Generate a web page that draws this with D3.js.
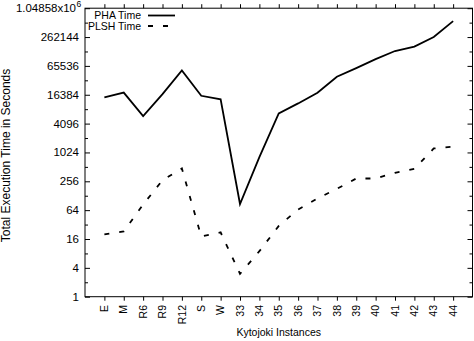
<!DOCTYPE html>
<html>
<head>
<meta charset="utf-8">
<script src="https://cdn.jsdelivr.net/npm/d3@7"></script>
<style>
  html, body { margin: 0; padding: 0; background: #fff; }
  svg text { font-family: "Liberation Sans", Arial, Helvetica, sans-serif; fill: #000; }
</style>
</head>
<body>
<svg id="chart" width="474" height="341"></svg>
<script>
// Kytojoki instances on the x axis
const categories = ["E", "M", "R6", "R9", "R12", "S", "W", "33", "34", "35", "36",
                    "37", "38", "39", "40", "41", "42", "43", "44"];

// Execution times in seconds
const phaTime = [14500, 18200, 5900, 16900, 52900, 15600, 13200, 86, 820, 6700, 10800,
                 18000, 39000, 59000, 91000, 134000, 166000, 262000, 563000];
const plshTime = [20, 23, 84, 270, 474, 18, 22, 3, 8.9, 30, 66,
                  112, 178, 293, 293, 385, 468, 1240, 1350];

// Major y ticks (powers of 4) and their labels ("|" marks a superscript)
const yTickValues = [1, 4, 16, 64, 256, 1024, 4096, 16384, 65536, 262144, 1048576];
const yTickLabels = ["1", "4", "16", "64", "256", "1024", "4096", "16384", "65536", "262144", "1.04858x10|6"];
// Minor y ticks (odd powers of 2)
const yMinorValues = [2, 8, 32, 128, 512, 2048, 8192, 32768, 131072, 524288];

const seriesNames = ["PHA Time", "PLSH Time"];

const svg = d3.select("#chart");
const plotLeft = 85, plotRight = 472.5, plotTop = 8.2, plotBottom = 296.7;

const x = d3.scaleLinear().domain([-1, categories.length]).range([plotLeft, plotRight]);
const y = d3.scaleLog().base(2).domain([1, 1048576]).range([plotBottom, plotTop]);

// Frame
svg.append("rect")
  .attr("x", plotLeft).attr("y", plotTop)
  .attr("width", plotRight - plotLeft).attr("height", plotBottom - plotTop)
  .attr("fill", "none").attr("stroke", "#000").attr("stroke-width", 1);

// Y axis (ticks inward) and mirrored right ticks
function yTicks(axisFn, xPos, values, size) {
  const g = svg.append("g").attr("transform", `translate(${xPos},0)`)
    .call(axisFn(y).tickValues(values).tickSize(size).tickFormat(""));
  g.select(".domain").remove();
  return g;
}
yTicks(d3.axisLeft, plotLeft, yTickValues, -5);
yTicks(d3.axisLeft, plotLeft, yMinorValues, -3);
yTicks(d3.axisRight, plotRight, yTickValues, -5);
yTicks(d3.axisRight, plotRight, yMinorValues, -3);

// Y tick labels
yTickValues.forEach((v, i) => {
  const parts = yTickLabels[i].split("|");
  const xEnd = parts[1] ? 76 : 79;
  svg.append("text")
    .attr("x", xEnd).attr("y", y(v)).attr("dy", "0.35em")
    .attr("text-anchor", "end").attr("font-size", 11.5)
    .text(parts[0]);
  if (parts[1]) {
    svg.append("text")
      .attr("x", xEnd + 0.5).attr("y", y(v)).attr("dy", "-0.1em")
      .attr("text-anchor", "start").attr("font-size", 8.5)
      .text(parts[1]);
  }
});

// X axis (ticks outward) and mirrored top ticks
const gx = svg.append("g").attr("transform", `translate(0,${plotBottom})`)
  .call(d3.axisBottom(x).tickValues(d3.range(categories.length)).tickSize(4).tickFormat(""));
gx.select(".domain").remove();
const gxT = svg.append("g").attr("transform", `translate(0,${plotTop})`)
  .call(d3.axisTop(x).tickValues(d3.range(categories.length)).tickSize(4).tickFormat(""));
gxT.select(".domain").remove();

svg.selectAll(".tick line").attr("stroke", "#000");

// Rotated x tick labels
svg.append("g").selectAll("text")
  .data(categories)
  .join("text")
  .attr("transform", (d, i) => `translate(${x(i)},305) rotate(-90)`)
  .attr("dy", "0.35em")
  .attr("text-anchor", "end")
  .attr("font-size", 10.5)
  .text(d => d);

// Axis titles
svg.append("text")
  .attr("x", (plotLeft + plotRight) / 2).attr("y", 336)
  .attr("text-anchor", "middle").attr("font-size", 10.5)
  .text("Kytojoki Instances");
svg.append("text")
  .attr("transform", `translate(10,${(plotTop + plotBottom) / 2 + 3}) rotate(-90)`)
  .attr("text-anchor", "middle").attr("font-size", 12)
  .text("Total Execution Time in Seconds");

// Series lines
const line = d3.line().x((d, i) => x(i)).y(d => y(d));
svg.append("path").datum(phaTime)
  .attr("d", line).attr("fill", "none")
  .attr("stroke", "#000").attr("stroke-width", 1.8).attr("stroke-linejoin", "miter");
svg.append("path").datum(plshTime)
  .attr("d", line).attr("fill", "none")
  .attr("stroke", "#000").attr("stroke-width", 1.8).attr("stroke-dasharray", "5,10");

// Legend
const legendY = [15.5, 26];
const dashes = [null, "5,10"];
seriesNames.forEach((name, i) => {
  svg.append("text")
    .attr("x", 141).attr("y", legendY[i]).attr("dy", "0.35em")
    .attr("text-anchor", "end").attr("font-size", 10.5)
    .text(name);
  svg.append("line")
    .attr("x1", 148).attr("x2", 175)
    .attr("y1", legendY[i]).attr("y2", legendY[i])
    .attr("stroke", "#000").attr("stroke-width", 1.8)
    .attr("stroke-dasharray", dashes[i]);
});
</script>
</body>
</html>
